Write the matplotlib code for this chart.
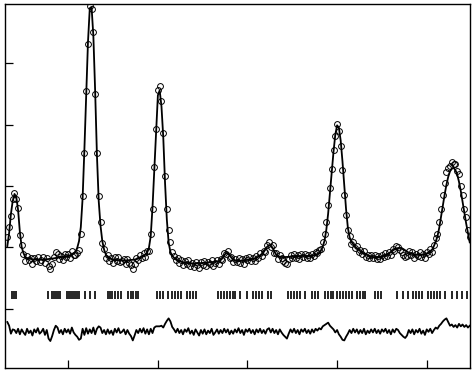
import numpy as np
import matplotlib
matplotlib.use("Agg")
import matplotlib.pyplot as plt

# Step-scan definition (2-theta, degrees)
theta_start = 13.2
theta_step = 0.2

# Calculated profile (counts)
calc = [1020, 1233, 1543, 1755, 1870, 1821, 1609, 1249, 1004, 906,
        841, 825, 815, 810, 805, 800, 800, 798, 798, 800,
        800, 802, 805, 808, 810, 815, 820, 825, 830, 835,
        840, 845, 850, 855, 860, 870, 885, 900, 930, 990,
        1100, 1330, 1800, 2600, 3500, 4350, 4900, 4920, 4450, 3550,
        2500, 1750, 1350, 1100, 960, 880, 840, 820, 810, 800,
        795, 790, 788, 785, 785, 785, 785, 787, 790, 793,
        797, 800, 805, 815, 830, 845, 860, 880, 910, 990,
        1180, 1650, 2250, 2850, 3480, 3560, 3300, 2800, 2050, 1450,
        1080, 920, 860, 830, 805, 790, 775, 765, 755, 750,
        745, 742, 740, 738, 737, 737, 738, 740, 742, 745,
        748, 750, 752, 755, 757, 760, 765, 770, 775, 790,
        820, 870, 905, 905, 870, 830, 800, 785, 778, 778,
        780, 782, 785, 790, 795, 800, 805, 810, 818, 830,
        845, 860, 885, 920, 965, 1010, 1035, 1030, 990, 930,
        880, 855, 845, 842, 840, 840, 842, 845, 848, 850,
        852, 855, 857, 858, 858, 858, 858, 858, 860, 862,
        865, 870, 878, 890, 910, 950, 1010, 1110, 1290, 1550,
        1880, 2220, 2560, 2840, 2990, 2950, 2740, 2400, 2000, 1620,
        1320, 1160, 1090, 1050, 1010, 985, 960, 935, 915, 900,
        885, 870, 855, 845, 840, 840, 840, 842, 845, 850,
        858, 870, 885, 905, 925, 945, 965, 980, 988, 990,
        985, 970, 950, 930, 912, 900, 890, 882, 878, 876,
        876, 878, 882, 888, 895, 905, 925, 960, 1020, 1090,
        1180, 1320, 1500, 1690, 1860, 2020, 2150, 2240, 2285, 2295,
        2260, 2190, 2070, 1920, 1740, 1560, 1390, 1230, 1080]

# Observed intensities (counts)
obs = [1170, 1323, 1503, 1785, 1890, 1791, 1649, 1199, 1034, 886,
       781, 865, 785, 820, 735, 830, 780, 848, 758, 790,
       840, 742, 825, 688, 650, 735, 840, 915, 890, 805,
       860, 795, 890, 835, 890, 830, 945, 880, 870, 900,
       960, 1210, 1840, 2540, 3550, 4310, 4930, 4890, 4510, 3500,
       2540, 1830, 1410, 1070, 980, 830, 870, 780, 820, 740,
       835, 770, 838, 755, 775, 815, 735, 807, 750, 713,
       647, 730, 825, 785, 870, 825, 910, 840, 940, 940,
       1220, 1620, 2310, 2930, 3560, 3640, 3390, 2860, 2170, 1620,
       1290, 1080, 930, 860, 785, 830, 745, 785, 705, 780,
       735, 792, 700, 748, 677, 767, 718, 670, 762, 705,
       778, 700, 762, 725, 797, 700, 745, 800, 735, 810,
       790, 910, 885, 935, 820, 840, 760, 815, 758, 828,
       750, 802, 725, 820, 785, 840, 775, 830, 768, 860,
       825, 900, 855, 940, 925, 1040, 1085, 1010, 1030, 900,
       900, 805, 875, 822, 780, 750, 722, 805, 878, 830,
       892, 825, 877, 808, 888, 848, 898, 828, 880, 822,
       895, 850, 918, 900, 960, 980, 1090, 1210, 1410, 1690,
       1970, 2280, 2590, 2820, 3010, 2900, 2650, 2260, 1850, 1530,
       1280, 1180, 1060, 1090, 990, 1015, 920, 955, 885, 940,
       835, 880, 825, 875, 820, 880, 810, 862, 805, 880,
       848, 910, 855, 925, 875, 975, 945, 1020, 1008, 960,
       925, 880, 840, 860, 932, 870, 920, 832, 898, 856,
       916, 838, 892, 828, 925, 895, 965, 930, 1040, 1150,
       1220, 1410, 1620, 1850, 2050, 2230, 2300, 2330, 2395, 2365,
       2360, 2250, 2190, 2000, 1850, 1630, 1490, 1290, 1170]

# Bragg reflection positions (2-theta)
bragg = [13.72, 13.94, 14.16, 17.73, 18.18, 18.40, 18.63, 18.85, 19.07, 19.85,
         20.08, 20.30, 20.52, 20.75, 20.97, 21.19, 21.86, 22.42, 22.98, 24.43,
         24.65, 24.88, 25.21, 25.55, 25.88, 26.66, 27.00, 27.22, 27.56, 27.78,
         29.90, 30.24, 30.57, 31.13, 31.57, 31.91, 32.24, 32.58, 33.25, 33.58,
         33.92, 34.25, 36.71, 37.05, 37.38, 37.71, 38.05, 38.38, 38.61, 39.16,
         39.94, 40.61, 40.95, 41.29, 41.62, 42.29, 42.62, 44.52, 44.85, 45.19,
         45.52, 45.86, 46.42, 47.20, 47.53, 47.87, 48.65, 48.98, 49.32, 49.54,
         49.99, 50.32, 50.66, 50.99, 51.33, 51.66, 52.22, 52.56, 52.89, 53.11,
         54.23, 54.56, 54.90, 56.68, 57.35, 57.91, 58.47, 58.80, 59.14, 59.47,
         60.14, 60.48, 60.81, 61.15, 61.48, 62.04, 62.82, 63.38, 63.94, 64.50]

x_ticks = [20, 30, 40, 50, 60]
y_ticks = [0, 1000, 2000, 3000, 4000]

diff_offset = -370
bragg_low, bragg_high = 150, 280

theta = theta_start + theta_step * np.arange(len(calc))
calc_a = np.array(calc, dtype=float)
obs_a = np.array(obs, dtype=float)
diff = obs_a - calc_a + diff_offset

fig = plt.figure(figsize=(4.74, 3.74), dpi=100)
ax = fig.add_axes([5 / 474, 6 / 374, 465 / 474, 364 / 374])

ax.plot(theta, obs_a, linestyle="none", marker="o", markersize=4.2,
        markerfacecolor="none", markeredgecolor="black", markeredgewidth=0.7)
ax.plot(theta, calc_a, color="black", linewidth=1.3)
ax.vlines(bragg, bragg_low, bragg_high, color="black", linewidth=1.2)
ax.plot(theta, diff, color="black", linewidth=1.3)

ax.set_xlim(12.94, 64.83)
ax.set_ylim(-970, 4970)
ax.set_xticks(x_ticks)
ax.set_yticks(y_ticks)
ax.tick_params(direction="in", length=6, width=0.9, labelbottom=False,
               labelleft=False, top=False, right=False)
for s in ax.spines.values():
    s.set_linewidth(1.0)
    s.set_color("black")

fig.savefig("out.png", dpi=100)
